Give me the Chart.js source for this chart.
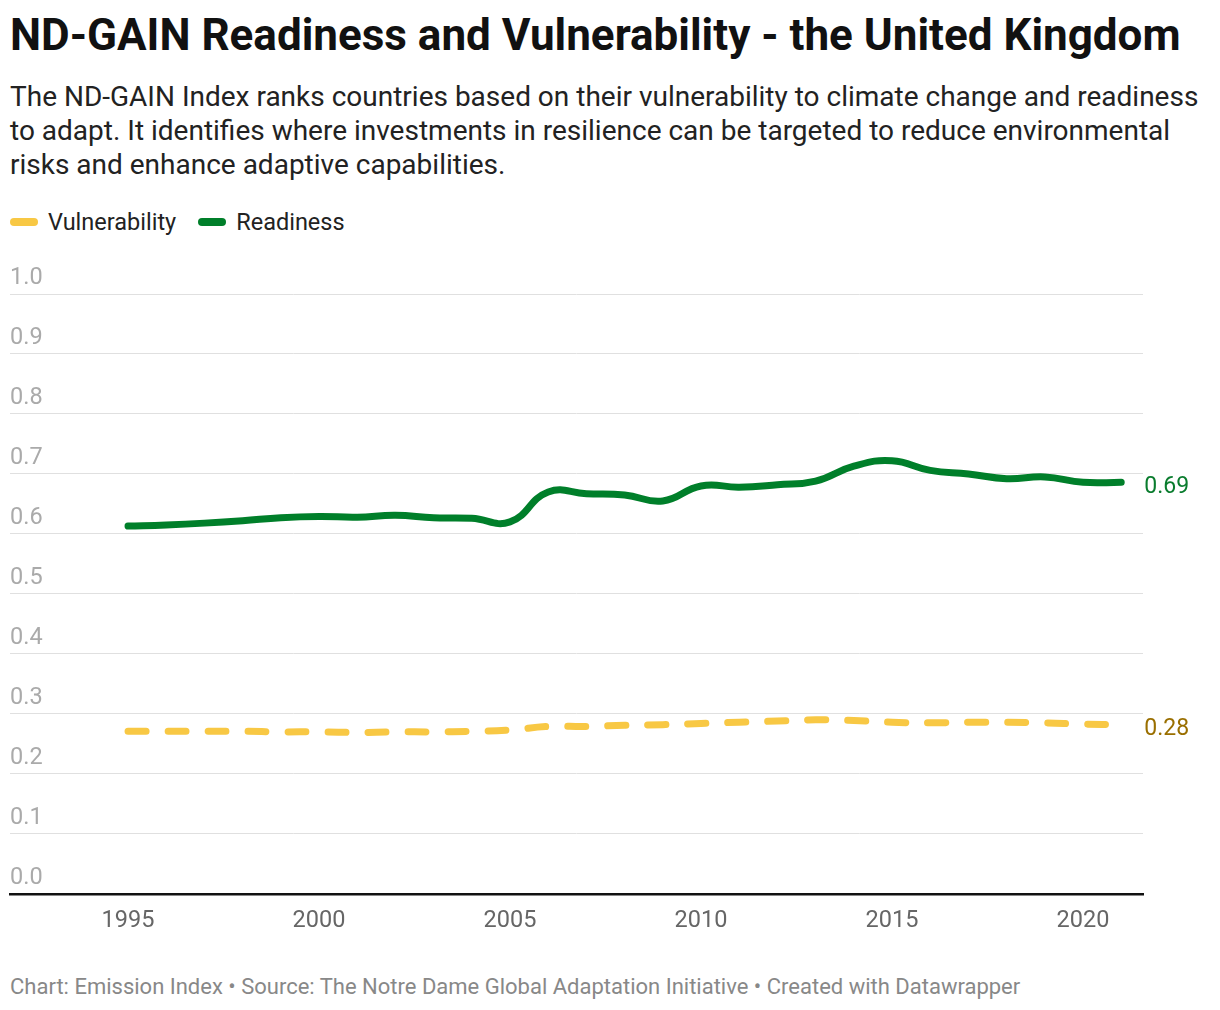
<!DOCTYPE html>
<html>
<head>
<meta charset="utf-8">
<script src="https://cdn.jsdelivr.net/npm/chart.js@4.4.1/dist/chart.umd.min.js"></script>
<style>
  body { margin: 0; background: #fff; font-family: Roboto, sans-serif; color: #222; }
  .wrap { position: relative; width: 1220px; height: 1010px; }
  h1 { position: absolute; left: 10px; top: 9px; margin: 0; font-size: 44px; font-weight: 700; color: #111; white-space: nowrap; }
  .sub { position: absolute; left: 10px; top: 80px; width: 1205px; margin: 0; font-size: 28px; line-height: 34px; color: #222; }
  .legend { position: absolute; left: 10px; top: 208px; font-size: 23.5px; display: flex; align-items: center; }
  .legend span.sw { display: inline-block; width: 28px; height: 8px; border-radius: 4px; margin-right: 10px; }
  .legend span.lb { margin-right: 22px; }
  .chartbox { position: absolute; left: 0; top: 250px; width: 1220px; height: 700px; }
  .foot { position: absolute; left: 10px; top: 974px; font-size: 22px; color: #888; white-space: nowrap; }
</style>
</head>
<body>
<div class="wrap">
  <h1>ND-GAIN Readiness and Vulnerability - the United Kingdom</h1>
  <p class="sub">The ND-GAIN Index ranks countries based on their vulnerability to climate change and readiness to adapt. It identifies where investments in resilience can be targeted to reduce environmental risks and enhance adaptive capabilities.</p>
  <div class="legend">
    <span class="sw" style="background:#f8c844"></span><span class="lb">Vulnerability</span>
    <span class="sw" style="background:#007f2a"></span><span class="lb">Readiness</span>
  </div>
  <div class="chartbox"><canvas id="chart"></canvas></div>
  <div class="foot">Chart: Emission Index • Source: The Notre Dame Global Adaptation Initiative • Created with Datawrapper</div>
</div>
<script>
// dados
const years = [1995, 1996, 1997, 1998, 1999, 2000, 2001, 2002, 2003, 2004, 2005, 2006, 2007, 2008,
  2009, 2010, 2011, 2012, 2013, 2014, 2015, 2016, 2017, 2018, 2019, 2020, 2021];
const readiness = [0.613, 0.615, 0.618, 0.622, 0.627, 0.629, 0.628, 0.631, 0.627, 0.626, 0.620, 0.670, 0.667, 0.665,
  0.655, 0.680, 0.678, 0.682, 0.688, 0.713, 0.722, 0.706, 0.700, 0.692, 0.695, 0.686, 0.686];
const vulnerability = [0.271, 0.271, 0.271, 0.271, 0.270, 0.270, 0.269, 0.270, 0.270, 0.271, 0.273, 0.279, 0.279, 0.281,
  0.282, 0.284, 0.286, 0.288, 0.290, 0.289, 0.286, 0.285, 0.286, 0.286, 0.285, 0.283, 0.282];
const xTicks = [1995, 2000, 2005, 2010, 2015, 2020];
const yTicks = [0, 0.1, 0.2, 0.3, 0.4, 0.5, 0.6, 0.7, 0.8, 0.9, 1.0];
const endLabels = ['0.28', '0.69'];

const green = '#007f2a';
const yellow = '#f8c844';

// rótulos no fim das linhas
const endLabelPlugin = {
  id: 'endLabels',
  afterDatasetsDraw(chart) {
    const ctx = chart.ctx;
    const x = chart.scales.x;
    const y = chart.scales.y;
    const cores = ['#9a6f00', '#0a7c2e'];
    chart.data.datasets.forEach((ds, i) => {
      const last = ds.data[ds.data.length - 1];
      ctx.save();
      ctx.font = '23px Roboto';
      ctx.fillStyle = cores[i];
      ctx.textBaseline = 'middle';
      ctx.fillText(endLabels[i], x.getPixelForValue(last.x) + 23, y.getPixelForValue(last.y) + 5);
      ctx.restore();
    });
  }
};

new Chart(document.getElementById('chart'), {
  type: 'line',
  data: {
    datasets: [{
      label: 'Vulnerability',
      data: years.map((yr, i) => ({ x: yr, y: vulnerability[i] })),
      borderColor: yellow,
      borderWidth: 7,
      borderDash: [18, 22],
      borderCapStyle: 'round',
      tension: 0.45,
      pointRadius: 0
    }, {
      label: 'Readiness',
      data: years.map((yr, i) => ({ x: yr, y: readiness[i] })),
      borderColor: green,
      borderWidth: 7,
      borderCapStyle: 'round',
      borderJoinStyle: 'round',
      tension: 0.45,
      pointRadius: 0
    }]
  },
  options: {
    responsive: true,
    maintainAspectRatio: false,
    animation: false,
    layout: { padding: { left: 10, right: 77, top: 44, bottom: 2 } },
    plugins: {
      legend: { display: false },
      tooltip: { enabled: false }
    },
    scales: {
      x: {
        type: 'linear',
        min: 1991.91,
        max: 2021.57,
        afterBuildTicks: (scale) => { scale.ticks = xTicks.map(v => ({ value: v })); },
        grid: { display: false, drawTicks: false },
        border: { display: true, color: '#111', width: 2.5 },
        ticks: {
          padding: 13,
          color: '#666',
          font: { family: 'Roboto', size: 23.5 },
          callback: (v) => String(v),
          maxRotation: 0,
          autoSkip: false
        }
      },
      y: {
        min: 0,
        max: 1,
        afterBuildTicks: (scale) => { scale.ticks = yTicks.map(v => ({ value: v })); },
        grid: { color: '#e0e0e0', lineWidth: 1, drawTicks: false },
        border: { display: false },
        ticks: {
          mirror: true,
          padding: 0,
          labelOffset: -16,
          color: '#aaa',
          font: { family: 'Roboto', size: 23.5 },
          callback: (v) => Number(v).toFixed(1)
        }
      }
    }
  },
  plugins: [endLabelPlugin]
});
</script>
</body>
</html>
